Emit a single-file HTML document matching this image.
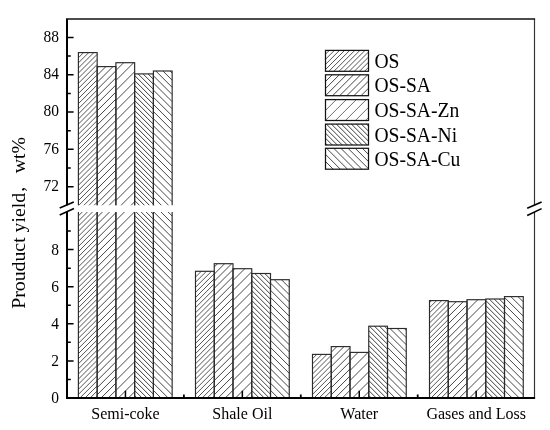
<!DOCTYPE html><html><head><meta charset="utf-8"><style>
html,body{margin:0;padding:0;background:#fff;}
svg{display:block;}
text{font-family:"Liberation Serif","Noto Serif CJK SC",serif;fill:#000;}
</style></head><body>
<svg width="550" height="430" viewBox="0 0 550 430">
<defs>
<clipPath id="cb"><rect x="0" y="0" width="550" height="205.20"/><rect x="0" y="212.00" width="550" height="218.00"/></clipPath>
</defs>
<g clip-path="url(#cb)">
<path d="M95.20,398.00L97.15,396.05M90.10,398.00L97.15,390.95M85.00,398.00L97.15,385.85M79.90,398.00L97.15,380.75M78.40,394.40L97.15,375.65M78.40,389.30L97.15,370.55M78.40,384.20L97.15,365.45M78.40,379.10L97.15,360.35M78.40,374.00L97.15,355.25M78.40,368.90L97.15,350.15M78.40,363.80L97.15,345.05M78.40,358.70L97.15,339.95M78.40,353.60L97.15,334.85M78.40,348.50L97.15,329.75M78.40,343.40L97.15,324.65M78.40,338.30L97.15,319.55M78.40,333.20L97.15,314.45M78.40,328.10L97.15,309.35M78.40,323.00L97.15,304.25M78.40,317.90L97.15,299.15M78.40,312.80L97.15,294.05M78.40,307.70L97.15,288.95M78.40,302.60L97.15,283.85M78.40,297.50L97.15,278.75M78.40,292.40L97.15,273.65M78.40,287.30L97.15,268.55M78.40,282.20L97.15,263.45M78.40,277.10L97.15,258.35M78.40,272.00L97.15,253.25M78.40,266.90L97.15,248.15M78.40,261.80L97.15,243.05M78.40,256.70L97.15,237.95M78.40,251.60L97.15,232.85M78.40,246.50L97.15,227.75M78.40,241.40L97.15,222.65M78.40,236.30L97.15,217.55M78.40,231.20L97.15,212.45M78.40,226.10L97.15,207.35M78.40,221.00L97.15,202.25M78.40,215.90L97.15,197.15M78.40,210.80L97.15,192.05M78.40,205.70L97.15,186.95M78.40,200.60L97.15,181.85M78.40,195.50L97.15,176.75M78.40,190.40L97.15,171.65M78.40,185.30L97.15,166.55M78.40,180.20L97.15,161.45M78.40,175.10L97.15,156.35M78.40,170.00L97.15,151.25M78.40,164.90L97.15,146.15M78.40,159.80L97.15,141.05M78.40,154.70L97.15,135.95M78.40,149.60L97.15,130.85M78.40,144.50L97.15,125.75M78.40,139.40L97.15,120.65M78.40,134.30L97.15,115.55M78.40,129.20L97.15,110.45M78.40,124.10L97.15,105.35M78.40,119.00L97.15,100.25M78.40,113.90L97.15,95.15M78.40,108.80L97.15,90.05M78.40,103.70L97.15,84.95M78.40,98.60L97.15,79.85M78.40,93.50L97.15,74.75M78.40,88.40L97.15,69.65M78.40,83.30L97.15,64.55M78.40,78.20L97.15,59.45M78.40,73.10L97.15,54.35M78.40,68.00L93.80,52.60M78.40,62.90L88.70,52.60M78.40,57.80L83.60,52.60M78.40,52.70L78.50,52.60M212.30,398.00L214.25,396.05M207.20,398.00L214.25,390.95M202.10,398.00L214.25,385.85M197.00,398.00L214.25,380.75M195.50,394.40L214.25,375.65M195.50,389.30L214.25,370.55M195.50,384.20L214.25,365.45M195.50,379.10L214.25,360.35M195.50,374.00L214.25,355.25M195.50,368.90L214.25,350.15M195.50,363.80L214.25,345.05M195.50,358.70L214.25,339.95M195.50,353.60L214.25,334.85M195.50,348.50L214.25,329.75M195.50,343.40L214.25,324.65M195.50,338.30L214.25,319.55M195.50,333.20L214.25,314.45M195.50,328.10L214.25,309.35M195.50,323.00L214.25,304.25M195.50,317.90L214.25,299.15M195.50,312.80L214.25,294.05M195.50,307.70L214.25,288.95M195.50,302.60L214.25,283.85M195.50,297.50L214.25,278.75M195.50,292.40L214.25,273.65M195.50,287.30L211.50,271.30M195.50,282.20L206.40,271.30M195.50,277.10L201.30,271.30M195.50,272.00L196.20,271.30M329.30,398.00L331.25,396.05M324.20,398.00L331.25,390.95M319.10,398.00L331.25,385.85M314.00,398.00L331.25,380.75M312.50,394.40L331.25,375.65M312.50,389.30L331.25,370.55M312.50,384.20L331.25,365.45M312.50,379.10L331.25,360.35M312.50,374.00L331.25,355.25M312.50,368.90L327.00,354.40M312.50,363.80L321.90,354.40M312.50,358.70L316.80,354.40M446.30,398.00L448.25,396.05M441.20,398.00L448.25,390.95M436.10,398.00L448.25,385.85M431.00,398.00L448.25,380.75M429.50,394.40L448.25,375.65M429.50,389.30L448.25,370.55M429.50,384.20L448.25,365.45M429.50,379.10L448.25,360.35M429.50,374.00L448.25,355.25M429.50,368.90L448.25,350.15M429.50,363.80L448.25,345.05M429.50,358.70L448.25,339.95M429.50,353.60L448.25,334.85M429.50,348.50L448.25,329.75M429.50,343.40L448.25,324.65M429.50,338.30L448.25,319.55M429.50,333.20L448.25,314.45M429.50,328.10L448.25,309.35M429.50,323.00L448.25,304.25M429.50,317.90L446.80,300.60M429.50,312.80L441.70,300.60M429.50,307.70L436.60,300.60M429.50,302.60L431.50,300.60" stroke="#555" stroke-width="1.0" fill="none"/>
<path d="M115.25,398.00L115.90,397.35M108.15,398.00L115.90,390.25M101.05,398.00L115.90,383.15M97.15,394.80L115.90,376.05M97.15,387.70L115.90,368.95M97.15,380.60L115.90,361.85M97.15,373.50L115.90,354.75M97.15,366.40L115.90,347.65M97.15,359.30L115.90,340.55M97.15,352.20L115.90,333.45M97.15,345.10L115.90,326.35M97.15,338.00L115.90,319.25M97.15,330.90L115.90,312.15M97.15,323.80L115.90,305.05M97.15,316.70L115.90,297.95M97.15,309.60L115.90,290.85M97.15,302.50L115.90,283.75M97.15,295.40L115.90,276.65M97.15,288.30L115.90,269.55M97.15,281.20L115.90,262.45M97.15,274.10L115.90,255.35M97.15,267.00L115.90,248.25M97.15,259.90L115.90,241.15M97.15,252.80L115.90,234.05M97.15,245.70L115.90,226.95M97.15,238.60L115.90,219.85M97.15,231.50L115.90,212.75M97.15,224.40L115.90,205.65M97.15,217.30L115.90,198.55M97.15,210.20L115.90,191.45M97.15,203.10L115.90,184.35M97.15,196.00L115.90,177.25M97.15,188.90L115.90,170.15M97.15,181.80L115.90,163.05M97.15,174.70L115.90,155.95M97.15,167.60L115.90,148.85M97.15,160.50L115.90,141.75M97.15,153.40L115.90,134.65M97.15,146.30L115.90,127.55M97.15,139.20L115.90,120.45M97.15,132.10L115.90,113.35M97.15,125.00L115.90,106.25M97.15,117.90L115.90,99.15M97.15,110.80L115.90,92.05M97.15,103.70L115.90,84.95M97.15,96.60L115.90,77.85M97.15,89.50L115.90,70.75M97.15,82.40L112.95,66.60M97.15,75.30L105.85,66.60M97.15,68.20L98.75,66.60M232.35,398.00L233.00,397.35M225.25,398.00L233.00,390.25M218.15,398.00L233.00,383.15M214.25,394.80L233.00,376.05M214.25,387.70L233.00,368.95M214.25,380.60L233.00,361.85M214.25,373.50L233.00,354.75M214.25,366.40L233.00,347.65M214.25,359.30L233.00,340.55M214.25,352.20L233.00,333.45M214.25,345.10L233.00,326.35M214.25,338.00L233.00,319.25M214.25,330.90L233.00,312.15M214.25,323.80L233.00,305.05M214.25,316.70L233.00,297.95M214.25,309.60L233.00,290.85M214.25,302.50L233.00,283.75M214.25,295.40L233.00,276.65M214.25,288.30L233.00,269.55M214.25,281.20L231.75,263.70M214.25,274.10L224.65,263.70M214.25,267.00L217.55,263.70M349.35,398.00L350.00,397.35M342.25,398.00L350.00,390.25M335.15,398.00L350.00,383.15M331.25,394.80L350.00,376.05M331.25,387.70L350.00,368.95M331.25,380.60L350.00,361.85M331.25,373.50L350.00,354.75M331.25,366.40L350.00,347.65M331.25,359.30L343.95,346.60M331.25,352.20L336.85,346.60M466.35,398.00L467.00,397.35M459.25,398.00L467.00,390.25M452.15,398.00L467.00,383.15M448.25,394.80L467.00,376.05M448.25,387.70L467.00,368.95M448.25,380.60L467.00,361.85M448.25,373.50L467.00,354.75M448.25,366.40L467.00,347.65M448.25,359.30L467.00,340.55M448.25,352.20L467.00,333.45M448.25,345.10L467.00,326.35M448.25,338.00L467.00,319.25M448.25,330.90L467.00,312.15M448.25,323.80L467.00,305.05M448.25,316.70L463.25,301.70M448.25,309.60L456.15,301.70M448.25,302.50L449.05,301.70" stroke="#474747" stroke-width="1.0" fill="none"/>
<path d="M128.40,398.00L134.65,391.75M118.40,398.00L134.65,381.75M115.90,390.50L134.65,371.75M115.90,380.50L134.65,361.75M115.90,370.50L134.65,351.75M115.90,360.50L134.65,341.75M115.90,350.50L134.65,331.75M115.90,340.50L134.65,321.75M115.90,330.50L134.65,311.75M115.90,320.50L134.65,301.75M115.90,310.50L134.65,291.75M115.90,300.50L134.65,281.75M115.90,290.50L134.65,271.75M115.90,280.50L134.65,261.75M115.90,270.50L134.65,251.75M115.90,260.50L134.65,241.75M115.90,250.50L134.65,231.75M115.90,240.50L134.65,221.75M115.90,230.50L134.65,211.75M115.90,220.50L134.65,201.75M115.90,210.50L134.65,191.75M115.90,200.50L134.65,181.75M115.90,190.50L134.65,171.75M115.90,180.50L134.65,161.75M115.90,170.50L134.65,151.75M115.90,160.50L134.65,141.75M115.90,150.50L134.65,131.75M115.90,140.50L134.65,121.75M115.90,130.50L134.65,111.75M115.90,120.50L134.65,101.75M115.90,110.50L134.65,91.75M115.90,100.50L134.65,81.75M115.90,90.50L134.65,71.75M115.90,80.50L133.70,62.70M115.90,70.50L123.70,62.70M245.50,398.00L251.75,391.75M235.50,398.00L251.75,381.75M233.00,390.50L251.75,371.75M233.00,380.50L251.75,361.75M233.00,370.50L251.75,351.75M233.00,360.50L251.75,341.75M233.00,350.50L251.75,331.75M233.00,340.50L251.75,321.75M233.00,330.50L251.75,311.75M233.00,320.50L251.75,301.75M233.00,310.50L251.75,291.75M233.00,300.50L251.75,281.75M233.00,290.50L251.75,271.75M233.00,280.50L244.80,268.70M233.00,270.50L234.80,268.70M362.50,398.00L368.75,391.75M352.50,398.00L368.75,381.75M350.00,390.50L368.75,371.75M350.00,380.50L368.75,361.75M350.00,370.50L368.10,352.40M350.00,360.50L358.10,352.40M479.50,398.00L485.75,391.75M469.50,398.00L485.75,381.75M467.00,390.50L485.75,371.75M467.00,380.50L485.75,361.75M467.00,370.50L485.75,351.75M467.00,360.50L485.75,341.75M467.00,350.50L485.75,331.75M467.00,340.50L485.75,321.75M467.00,330.50L485.75,311.75M467.00,320.50L485.75,301.75M467.00,310.50L477.80,299.70M467.00,300.50L467.80,299.70" stroke="#4a4a4a" stroke-width="1.0" fill="none"/>
<path d="M134.65,395.50L137.15,398.00M134.65,390.50L142.15,398.00M134.65,385.50L147.15,398.00M134.65,380.50L152.15,398.00M134.65,375.50L153.40,394.25M134.65,370.50L153.40,389.25M134.65,365.50L153.40,384.25M134.65,360.50L153.40,379.25M134.65,355.50L153.40,374.25M134.65,350.50L153.40,369.25M134.65,345.50L153.40,364.25M134.65,340.50L153.40,359.25M134.65,335.50L153.40,354.25M134.65,330.50L153.40,349.25M134.65,325.50L153.40,344.25M134.65,320.50L153.40,339.25M134.65,315.50L153.40,334.25M134.65,310.50L153.40,329.25M134.65,305.50L153.40,324.25M134.65,300.50L153.40,319.25M134.65,295.50L153.40,314.25M134.65,290.50L153.40,309.25M134.65,285.50L153.40,304.25M134.65,280.50L153.40,299.25M134.65,275.50L153.40,294.25M134.65,270.50L153.40,289.25M134.65,265.50L153.40,284.25M134.65,260.50L153.40,279.25M134.65,255.50L153.40,274.25M134.65,250.50L153.40,269.25M134.65,245.50L153.40,264.25M134.65,240.50L153.40,259.25M134.65,235.50L153.40,254.25M134.65,230.50L153.40,249.25M134.65,225.50L153.40,244.25M134.65,220.50L153.40,239.25M134.65,215.50L153.40,234.25M134.65,210.50L153.40,229.25M134.65,205.50L153.40,224.25M134.65,200.50L153.40,219.25M134.65,195.50L153.40,214.25M134.65,190.50L153.40,209.25M134.65,185.50L153.40,204.25M134.65,180.50L153.40,199.25M134.65,175.50L153.40,194.25M134.65,170.50L153.40,189.25M134.65,165.50L153.40,184.25M134.65,160.50L153.40,179.25M134.65,155.50L153.40,174.25M134.65,150.50L153.40,169.25M134.65,145.50L153.40,164.25M134.65,140.50L153.40,159.25M134.65,135.50L153.40,154.25M134.65,130.50L153.40,149.25M134.65,125.50L153.40,144.25M134.65,120.50L153.40,139.25M134.65,115.50L153.40,134.25M134.65,110.50L153.40,129.25M134.65,105.50L153.40,124.25M134.65,100.50L153.40,119.25M134.65,95.50L153.40,114.25M134.65,90.50L153.40,109.25M134.65,85.50L153.40,104.25M134.65,80.50L153.40,99.25M134.65,75.50L153.40,94.25M138.05,73.90L153.40,89.25M143.05,73.90L153.40,84.25M148.05,73.90L153.40,79.25M153.05,73.90L153.40,74.25M251.75,395.50L254.25,398.00M251.75,390.50L259.25,398.00M251.75,385.50L264.25,398.00M251.75,380.50L269.25,398.00M251.75,375.50L270.50,394.25M251.75,370.50L270.50,389.25M251.75,365.50L270.50,384.25M251.75,360.50L270.50,379.25M251.75,355.50L270.50,374.25M251.75,350.50L270.50,369.25M251.75,345.50L270.50,364.25M251.75,340.50L270.50,359.25M251.75,335.50L270.50,354.25M251.75,330.50L270.50,349.25M251.75,325.50L270.50,344.25M251.75,320.50L270.50,339.25M251.75,315.50L270.50,334.25M251.75,310.50L270.50,329.25M251.75,305.50L270.50,324.25M251.75,300.50L270.50,319.25M251.75,295.50L270.50,314.25M251.75,290.50L270.50,309.25M251.75,285.50L270.50,304.25M251.75,280.50L270.50,299.25M251.75,275.50L270.50,294.25M254.75,273.50L270.50,289.25M259.75,273.50L270.50,284.25M264.75,273.50L270.50,279.25M269.75,273.50L270.50,274.25M368.75,395.50L371.25,398.00M368.75,390.50L376.25,398.00M368.75,385.50L381.25,398.00M368.75,380.50L386.25,398.00M368.75,375.50L387.50,394.25M368.75,370.50L387.50,389.25M368.75,365.50L387.50,384.25M368.75,360.50L387.50,379.25M368.75,355.50L387.50,374.25M368.75,350.50L387.50,369.25M368.75,345.50L387.50,364.25M368.75,340.50L387.50,359.25M368.75,335.50L387.50,354.25M368.75,330.50L387.50,349.25M369.45,326.20L387.50,344.25M374.45,326.20L387.50,339.25M379.45,326.20L387.50,334.25M384.45,326.20L387.50,329.25M485.75,395.50L488.25,398.00M485.75,390.50L493.25,398.00M485.75,385.50L498.25,398.00M485.75,380.50L503.25,398.00M485.75,375.50L504.50,394.25M485.75,370.50L504.50,389.25M485.75,365.50L504.50,384.25M485.75,360.50L504.50,379.25M485.75,355.50L504.50,374.25M485.75,350.50L504.50,369.25M485.75,345.50L504.50,364.25M485.75,340.50L504.50,359.25M485.75,335.50L504.50,354.25M485.75,330.50L504.50,349.25M485.75,325.50L504.50,344.25M485.75,320.50L504.50,339.25M485.75,315.50L504.50,334.25M485.75,310.50L504.50,329.25M485.75,305.50L504.50,324.25M485.75,300.50L504.50,319.25M489.25,299.00L504.50,314.25M494.25,299.00L504.50,309.25M499.25,299.00L504.50,304.25M504.25,299.00L504.50,299.25" stroke="#3c3c3c" stroke-width="1.0" fill="none"/>
<path d="M153.40,397.50L153.90,398.00M153.40,390.35L161.05,398.00M153.40,383.20L168.20,398.00M153.40,376.05L172.15,394.80M153.40,368.90L172.15,387.65M153.40,361.75L172.15,380.50M153.40,354.60L172.15,373.35M153.40,347.45L172.15,366.20M153.40,340.30L172.15,359.05M153.40,333.15L172.15,351.90M153.40,326.00L172.15,344.75M153.40,318.85L172.15,337.60M153.40,311.70L172.15,330.45M153.40,304.55L172.15,323.30M153.40,297.40L172.15,316.15M153.40,290.25L172.15,309.00M153.40,283.10L172.15,301.85M153.40,275.95L172.15,294.70M153.40,268.80L172.15,287.55M153.40,261.65L172.15,280.40M153.40,254.50L172.15,273.25M153.40,247.35L172.15,266.10M153.40,240.20L172.15,258.95M153.40,233.05L172.15,251.80M153.40,225.90L172.15,244.65M153.40,218.75L172.15,237.50M153.40,211.60L172.15,230.35M153.40,204.45L172.15,223.20M153.40,197.30L172.15,216.05M153.40,190.15L172.15,208.90M153.40,183.00L172.15,201.75M153.40,175.85L172.15,194.60M153.40,168.70L172.15,187.45M153.40,161.55L172.15,180.30M153.40,154.40L172.15,173.15M153.40,147.25L172.15,166.00M153.40,140.10L172.15,158.85M153.40,132.95L172.15,151.70M153.40,125.80L172.15,144.55M153.40,118.65L172.15,137.40M153.40,111.50L172.15,130.25M153.40,104.35L172.15,123.10M153.40,97.20L172.15,115.95M153.40,90.05L172.15,108.80M153.40,82.90L172.15,101.65M153.40,75.75L172.15,94.50M155.80,71.00L172.15,87.35M162.95,71.00L172.15,80.20M170.10,71.00L172.15,73.05M270.50,397.50L271.00,398.00M270.50,390.35L278.15,398.00M270.50,383.20L285.30,398.00M270.50,376.05L289.25,394.80M270.50,368.90L289.25,387.65M270.50,361.75L289.25,380.50M270.50,354.60L289.25,373.35M270.50,347.45L289.25,366.20M270.50,340.30L289.25,359.05M270.50,333.15L289.25,351.90M270.50,326.00L289.25,344.75M270.50,318.85L289.25,337.60M270.50,311.70L289.25,330.45M270.50,304.55L289.25,323.30M270.50,297.40L289.25,316.15M270.50,290.25L289.25,309.00M270.50,283.10L289.25,301.85M274.25,279.70L289.25,294.70M281.40,279.70L289.25,287.55M288.55,279.70L289.25,280.40M387.50,397.50L388.00,398.00M387.50,390.35L395.15,398.00M387.50,383.20L402.30,398.00M387.50,376.05L406.25,394.80M387.50,368.90L406.25,387.65M387.50,361.75L406.25,380.50M387.50,354.60L406.25,373.35M387.50,347.45L406.25,366.20M387.50,340.30L406.25,359.05M387.50,333.15L406.25,351.90M390.00,328.50L406.25,344.75M397.15,328.50L406.25,337.60M404.30,328.50L406.25,330.45M504.50,397.50L505.00,398.00M504.50,390.35L512.15,398.00M504.50,383.20L519.30,398.00M504.50,376.05L523.25,394.80M504.50,368.90L523.25,387.65M504.50,361.75L523.25,380.50M504.50,354.60L523.25,373.35M504.50,347.45L523.25,366.20M504.50,340.30L523.25,359.05M504.50,333.15L523.25,351.90M504.50,326.00L523.25,344.75M504.50,318.85L523.25,337.60M504.50,311.70L523.25,330.45M504.50,304.55L523.25,323.30M504.50,297.40L523.25,316.15M510.85,296.60L523.25,309.00M518.00,296.60L523.25,301.85" stroke="#474747" stroke-width="1.0" fill="none"/>
<rect x="78.40" y="52.60" width="18.75" height="345.40" fill="none" stroke="#2a2a2a" stroke-width="1.15"/>
<rect x="97.15" y="66.60" width="18.75" height="331.40" fill="none" stroke="#2a2a2a" stroke-width="1.15"/>
<rect x="115.90" y="62.70" width="18.75" height="335.30" fill="none" stroke="#2a2a2a" stroke-width="1.15"/>
<rect x="134.65" y="73.90" width="18.75" height="324.10" fill="none" stroke="#2a2a2a" stroke-width="1.15"/>
<rect x="153.40" y="71.00" width="18.75" height="327.00" fill="none" stroke="#2a2a2a" stroke-width="1.15"/>
<rect x="195.50" y="271.30" width="18.75" height="126.70" fill="none" stroke="#2a2a2a" stroke-width="1.15"/>
<rect x="214.25" y="263.70" width="18.75" height="134.30" fill="none" stroke="#2a2a2a" stroke-width="1.15"/>
<rect x="233.00" y="268.70" width="18.75" height="129.30" fill="none" stroke="#2a2a2a" stroke-width="1.15"/>
<rect x="251.75" y="273.50" width="18.75" height="124.50" fill="none" stroke="#2a2a2a" stroke-width="1.15"/>
<rect x="270.50" y="279.70" width="18.75" height="118.30" fill="none" stroke="#2a2a2a" stroke-width="1.15"/>
<rect x="312.50" y="354.40" width="18.75" height="43.60" fill="none" stroke="#2a2a2a" stroke-width="1.15"/>
<rect x="331.25" y="346.60" width="18.75" height="51.40" fill="none" stroke="#2a2a2a" stroke-width="1.15"/>
<rect x="350.00" y="352.40" width="18.75" height="45.60" fill="none" stroke="#2a2a2a" stroke-width="1.15"/>
<rect x="368.75" y="326.20" width="18.75" height="71.80" fill="none" stroke="#2a2a2a" stroke-width="1.15"/>
<rect x="387.50" y="328.50" width="18.75" height="69.50" fill="none" stroke="#2a2a2a" stroke-width="1.15"/>
<rect x="429.50" y="300.60" width="18.75" height="97.40" fill="none" stroke="#2a2a2a" stroke-width="1.15"/>
<rect x="448.25" y="301.70" width="18.75" height="96.30" fill="none" stroke="#2a2a2a" stroke-width="1.15"/>
<rect x="467.00" y="299.70" width="18.75" height="98.30" fill="none" stroke="#2a2a2a" stroke-width="1.15"/>
<rect x="485.75" y="299.00" width="18.75" height="99.00" fill="none" stroke="#2a2a2a" stroke-width="1.15"/>
<rect x="504.50" y="296.60" width="18.75" height="101.40" fill="none" stroke="#2a2a2a" stroke-width="1.15"/>
</g>
<path d="M67.0,18.9 V205.2 M67.0,211.2 V398.0" stroke="#000" stroke-width="2" fill="none"/>
<path d="M534.5,18.9 V205.2 M534.5,212.0 V398.0" stroke="#333" stroke-width="1.15" fill="none"/>
<path d="M66.0,18.9 H535.1" stroke="#111" stroke-width="1.45" fill="none"/>
<path d="M66.0,398.0 H535.1" stroke="#000" stroke-width="2" fill="none"/>
<path d="M68.0,37.40 h5.6 M68.0,74.72 h5.6 M68.0,112.04 h5.6 M68.0,149.36 h5.6 M68.0,186.68 h5.6 M68.0,56.06 h2.8 M68.0,93.38 h2.8 M68.0,130.70 h2.8 M68.0,168.02 h2.8 M68.0,360.90 h5.6 M68.0,323.80 h5.6 M68.0,286.70 h5.6 M68.0,249.60 h5.6 M68.0,379.45 h2.8 M68.0,342.35 h2.8 M68.0,305.25 h2.8 M68.0,268.15 h2.8 M68.0,231.05 h2.8" stroke="#000" stroke-width="1.5" fill="none"/>
<path d="M183.90,397.0 v-2.5 M300.80,397.0 v-2.5 M417.70,397.0 v-2.5" stroke="#000" stroke-width="1.8" fill="none"/>
<path d="M125.45,397.0 v-6.2 M242.35,397.0 v-6.2 M359.25,397.0 v-6.2 M476.15,397.0 v-6.2" stroke="#000" stroke-width="1.5" fill="none"/>
<path d="M59.7,208.1 L73.8,202.0 M59.7,214.9 L74,208.6" stroke="#000" stroke-width="1.6" fill="none"/>
<path d="M527.2,208.3 L541.6,201.9 M527.2,215.5 L541.6,208.6" stroke="#000" stroke-width="1.6" fill="none"/>
<text transform="translate(59,41.70) scale(1,1.07)" font-size="15.5" text-anchor="end">88</text>
<text transform="translate(59,79.02) scale(1,1.07)" font-size="15.5" text-anchor="end">84</text>
<text transform="translate(59,116.34) scale(1,1.07)" font-size="15.5" text-anchor="end">80</text>
<text transform="translate(59,153.66) scale(1,1.07)" font-size="15.5" text-anchor="end">76</text>
<text transform="translate(59,190.98) scale(1,1.07)" font-size="15.5" text-anchor="end">72</text>
<text transform="translate(59,403.10) scale(1,1.07)" font-size="15.5" text-anchor="end">0</text>
<text transform="translate(59,366.00) scale(1,1.07)" font-size="15.5" text-anchor="end">2</text>
<text transform="translate(59,328.90) scale(1,1.07)" font-size="15.5" text-anchor="end">4</text>
<text transform="translate(59,291.80) scale(1,1.07)" font-size="15.5" text-anchor="end">6</text>
<text transform="translate(59,254.70) scale(1,1.07)" font-size="15.5" text-anchor="end">8</text>
<text x="125.45" y="419" font-size="16" text-anchor="middle">Semi-coke</text>
<text x="242.35" y="419" font-size="16" text-anchor="middle">Shale Oil</text>
<text x="359.25" y="419" font-size="16" text-anchor="middle">Water</text>
<text x="476.15" y="419" font-size="16" text-anchor="middle">Gases and Loss</text>
<path d="M364.50,71.30L368.50,67.30M359.40,71.30L368.50,62.20M354.30,71.30L368.50,57.10M349.20,71.30L368.50,52.00M344.10,71.30L365.00,50.40M339.00,71.30L359.90,50.40M333.90,71.30L354.80,50.40M328.80,71.30L349.70,50.40M325.50,69.50L344.60,50.40M325.50,64.40L339.50,50.40M325.50,59.30L334.40,50.40M325.50,54.20L329.30,50.40" stroke="#555" stroke-width="1.0" fill="none"/>
<rect x="325.5" y="50.40" width="43.0" height="20.9" fill="none" stroke="#111" stroke-width="1.25"/>
<text transform="translate(374.4,68.00) scale(1,1.07)" font-size="19.6">OS</text>
<path d="M368.10,95.70L368.50,95.30M361.00,95.70L368.50,88.20M353.90,95.70L368.50,81.10M346.80,95.70L367.70,74.80M339.70,95.70L360.60,74.80M332.60,95.70L353.50,74.80M325.50,95.70L346.40,74.80M325.50,88.60L339.30,74.80M325.50,81.50L332.20,74.80" stroke="#474747" stroke-width="1.0" fill="none"/>
<rect x="325.5" y="74.80" width="43.0" height="20.9" fill="none" stroke="#111" stroke-width="1.25"/>
<text transform="translate(374.4,92.40) scale(1,1.07)" font-size="19.6">OS-SA</text>
<path d="M365.40,120.50L368.50,117.40M355.40,120.50L368.50,107.40M345.40,120.50L366.30,99.60M335.40,120.50L356.30,99.60M325.50,120.40L346.30,99.60M325.50,110.40L336.30,99.60M325.50,100.40L326.30,99.60" stroke="#707070" stroke-width="1.0" fill="none"/>
<rect x="325.5" y="99.60" width="43.0" height="20.9" fill="none" stroke="#111" stroke-width="1.25"/>
<text transform="translate(374.4,117.20) scale(1,1.07)" font-size="19.6">OS-SA-Zn</text>
<path d="M325.50,143.20L327.30,145.00M325.50,138.20L332.30,145.00M325.50,133.20L337.30,145.00M325.50,128.20L342.30,145.00M326.40,124.10L347.30,145.00M331.40,124.10L352.30,145.00M336.40,124.10L357.30,145.00M341.40,124.10L362.30,145.00M346.40,124.10L367.30,145.00M351.40,124.10L368.50,141.20M356.40,124.10L368.50,136.20M361.40,124.10L368.50,131.20M366.40,124.10L368.50,126.20" stroke="#3c3c3c" stroke-width="1.0" fill="none"/>
<rect x="325.5" y="124.10" width="43.0" height="20.9" fill="none" stroke="#111" stroke-width="1.25"/>
<text transform="translate(374.4,141.70) scale(1,1.07)" font-size="19.6">OS-SA-Ni</text>
<path d="M325.50,168.65L326.05,169.20M325.50,161.50L333.20,169.20M325.50,154.35L340.35,169.20M326.60,148.30L347.50,169.20M333.75,148.30L354.65,169.20M340.90,148.30L361.80,169.20M348.05,148.30L368.50,168.75M355.20,148.30L368.50,161.60M362.35,148.30L368.50,154.45" stroke="#474747" stroke-width="1.0" fill="none"/>
<rect x="325.5" y="148.30" width="43.0" height="20.9" fill="none" stroke="#111" stroke-width="1.25"/>
<text transform="translate(374.4,165.90) scale(1,1.07)" font-size="19.6">OS-SA-Cu</text>
<text transform="translate(24.8,308.8) rotate(-90)" font-size="19.8">Prouduct yield<tspan x="117" dy="-1.3">,</tspan><tspan x="135.6" dy="1.3">wt%</tspan></text>
</svg></body></html>
